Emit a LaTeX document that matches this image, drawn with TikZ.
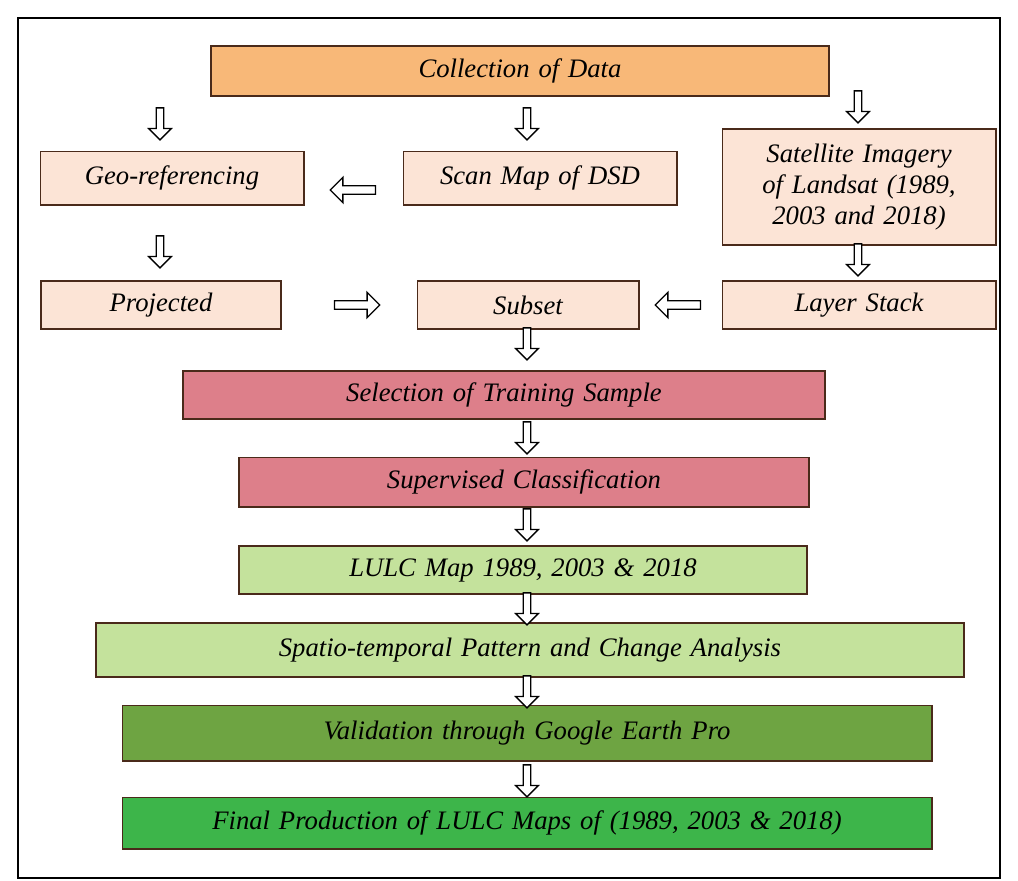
\documentclass[tikz,border=0pt]{standalone}
\usepackage{fontspec}
\setmainfont{Liberation Serif}
\usetikzlibrary{shapes.arrows}
\definecolor{orangef}{HTML}{F8B878}
\definecolor{peach}{HTML}{FCE4D6}
\definecolor{pinkf}{HTML}{DD7F8A}
\definecolor{lgreen}{HTML}{C4E29C}
\definecolor{mgreen}{HTML}{6EA442}
\definecolor{dgreen}{HTML}{3DB54A}
\definecolor{edge}{HTML}{4A2A1A}
\begin{document}
\begin{tikzpicture}[x=0.75pt,y=-0.75pt,
  box/.style={draw=edge,line width=1.2pt,font=\fontsize{20}{23}\selectfont\itshape,align=center,inner sep=0pt},
  harrow/.style={single arrow,draw=black,fill=white,line width=1pt,minimum width=17pt,single arrow head extend=4pt,inner sep=1.5pt,single arrow tip angle=90}]
\useasboundingbox (0,0) rectangle (1018,881);
\draw[line width=0.8pt] (18,18) rectangle (1000,878);
\newcommand{\bx}[6]{\node[box,fill=#6,minimum width=#3*0.75pt-1.2pt,minimum height=#4*0.75pt-1.2pt,text width=#3*0.75pt-10pt] (#1) at (#2) {#5};}
\bx{cd}{520,71}{620}{52}{Collection of Data}{orangef}
\bx{geo}{172,178}{265}{55}{Geo-referencing}{peach}
\bx{scan}{540,178}{275}{55}{Scan Map of DSD}{peach}
\bx{sat}{859,187}{275}{117}{Satellite Imagery of Landsat (1989, 2003 and 2018)}{peach}
\bx{proj}{161,305}{242}{50}{Projected}{peach}
\bx{sub}{528,305}{223}{50}{Subset}{peach}
\bx{ls}{859,305}{275}{50}{Layer Stack}{peach}
\bx{sel}{504,395}{644}{50}{Selection of Training Sample}{pinkf}
\bx{sup}{524,482}{572}{51}{Supervised Classification}{pinkf}
\bx{lulc}{523,570}{570}{50}{LULC Map 1989, 2003 \& 2018}{lgreen}
\bx{spa}{530,650}{870}{56}{Spatio-temporal Pattern and Change Analysis}{lgreen}
\bx{val}{527,733}{811}{57}{Validation through Google Earth Pro}{mgreen}
\bx{fin}{527,823}{811}{53}{Final Production of LULC Maps of (1989, 2003 \& 2018)}{dgreen}
\foreach \n/\p/\r in {a1/{160,122}/-90,a2/{527,122}/-90,a3/{858,105}/-90,a4/{160,250}/-90,a5/{858,258}/-90,a6/{527,342}/-90,a7/{527,436}/-90,a8/{527,523}/-90,a9/{527,607}/-90,a10/{527,690}/-90,a11/{527,779}/-90}
  \node[harrow,rotate=\r,minimum height=24pt] (\n) at (\p) {};
\foreach \n/\p/\r in {b1/{355,190}/180,b2/{355,305}/0,b3/{680,305}/180}
  \node[harrow,rotate=\r,minimum height=34pt,minimum width=19pt] (\n) at (\p) {};
\end{tikzpicture}
\end{document}
